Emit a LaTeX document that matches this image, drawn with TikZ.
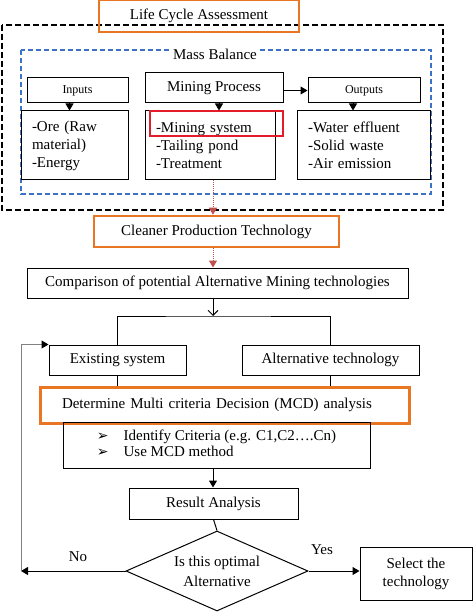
\documentclass[tikz,border=0pt]{standalone}
\usepackage{fontspec}
\setmainfont{Liberation Serif}
\newfontfamily\dingfont{DejaVu Sans}
\usetikzlibrary{shapes}
\usetikzlibrary{shapes.geometric}
\usetikzlibrary{arrows.meta}
\definecolor{lcaorange}{RGB}{232,118,34}
\definecolor{mbblue}{RGB}{60,115,200}
\definecolor{hlred}{RGB}{226,28,40}
\definecolor{dotred}{RGB}{192,80,77}
\tikzset{
    mybox/.style = {rectangle, line width=1pt, draw=black, align=center, inner sep=0pt, font=\fontsize{15pt}{18pt}\selectfont, text=black},
    myboxs/.style = {mybox, font=\fontsize{12pt}{14pt}\selectfont},
    myboxo/.style = {mybox, line width=2.5pt, draw=lcaorange},
    myboxl/.style = {mybox, align=left, inner xsep=11pt, minimum height=69pt},
    myboxr/.style = {rectangle, line width=2pt, draw=hlred, inner sep=0pt},
    mydia/.style = {diamond, aspect=2.275, line width=1pt, draw=black, align=center, inner sep=0pt, font=\fontsize{15pt}{20pt}\selectfont, minimum width=182pt, minimum height=80pt},
    mylabel/.style = {font=\fontsize{15pt}{18pt}\selectfont, text=black, inner sep=1pt},
    framek/.style = {line width=2pt, draw=black, dash pattern=on 6pt off 3pt},
    frameb/.style = {line width=1.3pt, draw=mbblue, dash pattern=on 5pt off 3pt},
    edgen/.style = {line width=1pt, black, -{Triangle[length=7pt,width=8pt]}},
    edgev/.style = {line width=1pt, black, -{Straight Barb[length=5pt,width=10pt]}},
    edgel/.style = {line width=1pt, black},
    edger/.style = {line width=1pt, dotred, densely dotted, -{Triangle[length=7pt,width=8pt]}},
    edgeg/.style = {line width=1pt, gray, -{Triangle[length=7pt,width=8pt,black]}}
}
\begin{document}
\begin{tikzpicture}[x=1pt,y=-1pt]
\useasboundingbox (0,0) rectangle (474,612);
\coordinate (axis) at (213,0);
\coordinate (back) at (21,0);
\coordinate (split) at (213,316);
% frames
\draw[framek] (2,25) rectangle (443,210);
\draw[frameb] (21,50) rectangle (431,194);
\node[myboxo, minimum width=200pt, minimum height=32pt] at (199,16) (lca) {Life Cycle Assessment};
\node[mylabel, fill=white, inner xsep=3pt] at (215,54) (mb) {Mass Balance};
% mass balance
\node[myboxs, minimum width=101pt, minimum height=25pt] at (77.5,90.5) (inp) {Inputs};
\node[mybox, minimum width=138pt, minimum height=30pt] at (214,88) (mp) {Mining Process};
\node[myboxs, minimum width=112pt, minimum height=25pt] at (364,90.5) (outp) {Outputs};
\node[myboxl, text width=85pt] at (74.5,145.5) (inpc) {-Ore (Raw\\material)\\-Energy};
\node[myboxl, text width=108pt] at (210,145.5) (mpc) {-Mining system\\-Tailing pond\\-Treatment};
\node[myboxl, text width=111pt] at (363.5,145.5) (outpc) {-Water effluent\\-Solid waste\\-Air emission};
\node[myboxr, minimum width=133pt, minimum height=25pt] at (216.5,123.5) (hl) {};
%
\draw[edgen] ([xshift=-8pt]inp.south) -- ([xshift=-8pt]inp.south |- inpc.north);
\draw[edgen] ([xshift=5pt]mp.south) -- ([xshift=5pt]mp.south |- mpc.north);
\draw[edgen] ([xshift=-11pt]outp.south) -- ([xshift=-11pt]outp.south |- outpc.north);
\draw[edgen] (mp.east |- outp.west) -- (outp.west);
% flow
\node[myboxo, minimum width=245pt, minimum height=31pt] at (216.5,231.5) (cpt) {Cleaner Production Technology};
\node[mybox, minimum width=381pt, minimum height=30pt] at (217.5,283) (cmp) {Comparison of potential Alternative Mining technologies};
\node[mybox, minimum width=137pt, minimum height=30pt] at (117.5,360) (exs) {Existing system};
\node[mybox, minimum width=177pt, minimum height=30pt] at (330.5,360) (alt) {Alternative technology};
\node[myboxo, line width=3pt, align=left, text width=325pt, inner xsep=22pt, minimum height=36pt] at (224.5,405) (mcd) {Determine Multi criteria Decision (MCD) analysis};
\node[mybox, minimum width=307pt, minimum height=46pt, font=\fontsize{15pt}{16pt}\selectfont] at (216.5,445) (crit) {\begin{tabular}{@{}l@{\hspace{15pt}}l@{}}{\dingfont\fontsize{14pt}{16pt}\selectfont ➢} & Identify Criteria (e.g. C1,C2….Cn)\\{\dingfont\fontsize{14pt}{16pt}\selectfont ➢} & Use MCD method\end{tabular}};
\node[mybox, minimum width=169pt, minimum height=31pt] at (213.5,503.5) (res) {Result Analysis};
\node[mydia] at (217,571) (dia) {Is this optimal\\Alternative};
\node[mybox, minimum width=112pt, minimum height=53pt] at (416,573.5) (sel) {Select the\\technology};
\node[mylabel] at (78,557) (no) {No};
\node[mylabel] at (322,550) (yes) {Yes};
%
\draw[edger] (mpc.south -| axis) -- (cpt.north -| axis);
\draw[edger] (cpt.south -| axis) -- (cmp.north -| axis);
\draw[edgev] (cmp.south -| axis) -- (split);
\draw[edgel] (exs.north) |- (split) -| (alt.north);
\draw[edgel] (exs.south) -- (exs.south |- mcd.north);
\draw[edgel] (alt.south) -- (alt.south |- mcd.north);
\draw[edgen] (crit.south -| axis) -- (res.north -| axis);
\draw[edgel] (res.south) -- (dia.north);
\draw[edgen] (dia.west) -- (dia.west -| back);
\draw[edgeg] (back |- dia.west) |- (exs.north west);
\draw[edgen] (dia.east) -- (dia.east -| sel.west);
\end{tikzpicture}
\end{document}
